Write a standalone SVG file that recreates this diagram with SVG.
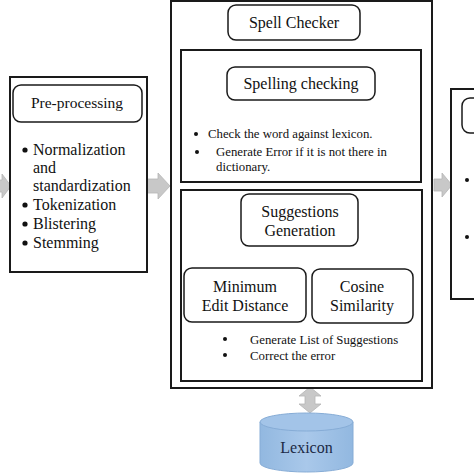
<svg xmlns="http://www.w3.org/2000/svg" width="474" height="474" viewBox="0 0 474 474">
<defs>
<style>
.box{fill:#fff;stroke:#1a1a1a;stroke-width:2}
.rbox{fill:#fff;stroke:#1a1a1a;stroke-width:1.5}
.t{font-family:"Liberation Serif","Times New Roman",serif;fill:#111;}
.c{text-anchor:middle}
.garrow{fill:#c8c8c8;stroke:#b5b5b5;stroke-width:0.8}
.conn{stroke:#111;stroke-width:2;fill:none}
</style>
<marker id="ah" viewBox="0 0 10 10" refX="9" refY="5" markerWidth="5" markerHeight="5" orient="auto">
<path d="M0,0 L10,5 L0,10 Z" fill="#111"/>
</marker>
<linearGradient id="cyl" x1="0" y1="0" x2="1" y2="0">
<stop offset="0" stop-color="#92b8e0"/>
<stop offset="0.5" stop-color="#a9c8ea"/>
<stop offset="1" stop-color="#92b8e0"/>
</linearGradient>
</defs>
<rect width="474" height="474" fill="#fff"/>

<g id="connectors">
<path class="garrow" d="M-2,180 L2,180 L2,174 L11,186 L2,198 L2,192 L-2,192 Z"/>
<path class="garrow" d="M146,179 L158,179 L158,173 L170,186 L158,199 L158,193 L146,193 Z"/>
<path class="garrow" d="M434,179 L442,179 L442,173 L452,185 L442,197 L442,191 L434,191 Z"/>
<path class="garrow" d="M305,396 L299,396 L310,387 L321,396 L315,396 L315,404 L321,404 L310,413 L299,404 L305,404 Z"/>
<line class="conn" x1="298" y1="247" x2="268" y2="267" marker-end="url(#ah)"/>
<line class="conn" x1="330" y1="247" x2="360" y2="268" marker-end="url(#ah)"/>
</g>

<g id="preprocessing">
<rect class="box" x="10" y="77" width="137" height="195"/>
<rect class="rbox" x="13" y="85" width="129" height="37" rx="8"/>
<text class="t c" x="77" y="108" font-size="15.5">Pre-processing</text>
<circle cx="25" cy="150" r="2.6" fill="#111"/>
<circle cx="25" cy="205" r="2.6" fill="#111"/>
<circle cx="25" cy="224" r="2.6" fill="#111"/>
<circle cx="25" cy="243" r="2.6" fill="#111"/>
<text class="t" x="33" y="155" font-size="16">Normalization</text>
<text class="t" x="33" y="173" font-size="16">and</text>
<text class="t" x="33" y="191" font-size="16">standardization</text>
<text class="t" x="33" y="210" font-size="16">Tokenization</text>
<text class="t" x="33" y="229" font-size="16">Blistering</text>
<text class="t" x="33" y="248" font-size="16">Stemming</text>
</g>

<g id="spellchecker">
<rect class="box" x="171" y="1" width="261" height="387"/>
<rect class="rbox" x="228" y="5" width="132" height="35" rx="8"/>
<text class="t c" x="294" y="28" font-size="16">Spell Checker</text>
</g>

<g id="spellingchecking">
<rect class="box" x="181" y="50" width="240" height="132"/>
<rect class="rbox" x="227" y="67" width="148" height="33" rx="8"/>
<text class="t c" x="301" y="89" font-size="16">Spelling checking</text>
<circle cx="196" cy="134" r="2" fill="#111"/>
<circle cx="197" cy="152" r="2" fill="#111"/>
<text class="t" x="208" y="138" font-size="12.8">Check the word against lexicon.</text>
<text class="t" x="216" y="156" font-size="12.8">Generate Error if it is not there in</text>
<text class="t" x="216" y="171" font-size="12.8">dictionary.</text>
</g>

<g id="suggestions">
<rect class="box" x="181" y="190" width="241" height="191"/>
<rect class="rbox" x="241" y="194" width="117" height="52" rx="8"/>
<text class="t c" x="300" y="217" font-size="16">Suggestions</text>
<text class="t c" x="300" y="236" font-size="16">Generation</text>
<circle cx="225" cy="339" r="2" fill="#111"/>
<circle cx="225" cy="355" r="2" fill="#111"/>
<text class="t" x="250" y="344" font-size="12.8">Generate List of Suggestions</text>
<text class="t" x="250" y="360" font-size="12.8">Correct the error</text>
</g>

<g id="minedit">
<rect class="rbox" x="184" y="268" width="122" height="54" rx="8"/>
<text class="t c" x="245" y="292" font-size="16">Minimum</text>
<text class="t c" x="245" y="311" font-size="16">Edit Distance</text>
</g>

<g id="cosine">
<rect class="rbox" x="312" y="269" width="101" height="54" rx="8"/>
<text class="t c" x="362" y="292" font-size="16">Cosine</text>
<text class="t c" x="362" y="311" font-size="16">Similarity</text>
</g>

<g id="rightbox">
<rect class="box" x="451" y="89" width="40" height="210"/>
<rect class="rbox" x="462" y="98" width="30" height="35" rx="8"/>
<circle cx="467" cy="180" r="2" fill="#111"/>
<circle cx="467" cy="237" r="2" fill="#111"/>
</g>

<g id="lexicon">
<path d="M260,422 L260,463 A46.5,9 0 0 0 353,463 L353,422 Z" fill="url(#cyl)" stroke="#86acd6" stroke-width="1"/>
<ellipse cx="306.5" cy="422" rx="46.5" ry="9" fill="#a3c4e8" stroke="#86acd6" stroke-width="1"/>
<text class="t c" x="306.5" y="453" font-size="16" fill="#1c2a45" style="fill:#1c2a45">Lexicon</text>
</g>
</svg>
